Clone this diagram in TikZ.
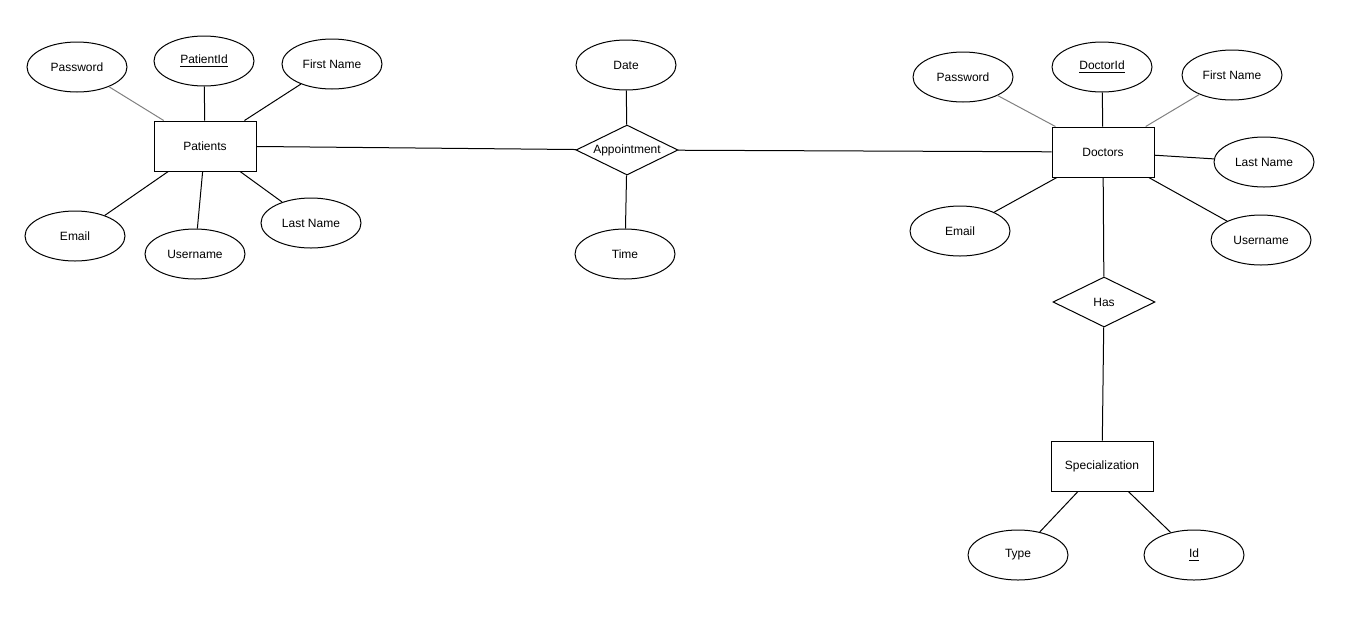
\documentclass[tikz,border=0pt]{standalone}
\usepackage{fontspec}
\setmainfont{Liberation Sans}
\usetikzlibrary{shapes.geometric}
\begin{document}
\begin{tikzpicture}[x=0.75pt,y=-0.75pt,
  every node/.style={font=\fontsize{9}{11}\selectfont},
  attr/.style={ellipse,draw,line width=0.75pt,minimum width=75pt,minimum height=37.5pt,inner sep=0pt},
  ent/.style={rectangle,draw,line width=0.75pt,minimum width=76.5pt,minimum height=37.5pt,inner sep=0pt},
  rel/.style={diamond,draw,line width=0.75pt,minimum width=76.5pt,minimum height=37.5pt,inner sep=0pt,aspect=2},
  con/.style={line width=0.75pt},
  gcon/.style={line width=0.75pt,draw=gray}]
\useasboundingbox (0,0) rectangle (1355,622);
% Patients
\node[ent] (pat) at (205,146) {Patients};
\node[attr] (ppw) at (77,67) {Password};
\node[attr] (pid) at (204,61) {\underline{PatientId}};
\node[attr] (pfn) at (332,64) {First Name};
\node[attr] (pem) at (75,236) {Email};
\node[attr] (pun) at (195,254) {Username};
\node[attr] (pln) at (311,223) {Last Name};
\draw[gcon] (ppw) -- (pat);
\draw[con] (pid) -- (pat);
\draw[con] (pfn) -- (pat);
\draw[con] (pem) -- (pat);
\draw[con] (pun) -- (pat);
\draw[con] (pln) -- (pat);
% Appointment
\node[rel,label={center:Appointment}] (app) at (627,150) {};
\node[attr] (dat) at (626,65) {Date};
\node[attr] (tim) at (625,254) {Time};
\draw[con] (dat) -- (app);
\draw[con] (tim) -- (app);
% Doctors
\node[ent] (doc) at (1103,152) {Doctors};
\node[attr] (dpw) at (963,77) {Password};
\node[attr] (did) at (1102,67) {\underline{DoctorId}};
\node[attr] (dfn) at (1232,75) {First Name};
\node[attr] (dln) at (1264,162) {Last Name};
\node[attr] (dun) at (1261,240) {Username};
\node[attr] (dem) at (960,231) {Email};
\draw[gcon] (dpw) -- (doc);
\draw[con] (did) -- (doc);
\draw[gcon] (dfn) -- (doc);
\draw[con] (dln) -- (doc);
\draw[con] (dun) -- (doc);
\draw[con] (dem) -- (doc);
\draw[con] (pat) -- (app);
\draw[con] (app) -- (doc);
% Has / Specialization
\node[rel,label={center:Has}] (has) at (1104,302) {};
\node[ent] (spe) at (1102,466) {Specialization};
\node[attr] (typ) at (1018,555) {Type};
\node[attr] (sid) at (1194,555) {\underline{Id}};
\draw[con] (doc) -- (has);
\draw[con] (has) -- (spe);
\draw[con] (typ) -- (spe);
\draw[con] (sid) -- (spe);
\end{tikzpicture}
\end{document}
